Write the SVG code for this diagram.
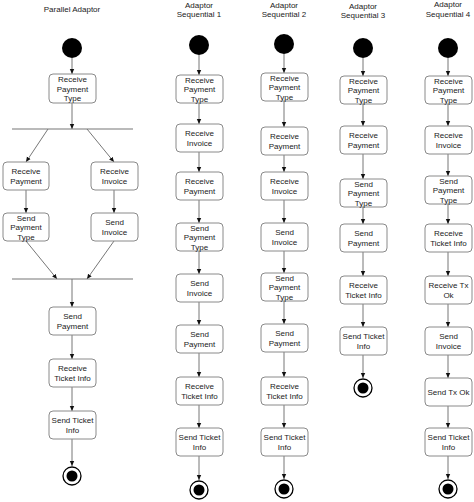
<svg xmlns="http://www.w3.org/2000/svg" width="474" height="502" viewBox="0 0 474 502">
<defs>
<marker id="ah" markerUnits="userSpaceOnUse" markerWidth="6" markerHeight="6" refX="5" refY="3" orient="auto"><path d="M0,0.8 L5,3 L0,5.2 Z" fill="#111"/></marker>
<style>
text{font-family:"Liberation Sans",Arial,sans-serif;font-size:8px;fill:#222;text-anchor:middle}
.box{fill:#fff;stroke:#8a8a8a;stroke-width:1}
.start{fill:#000}
.endo{fill:#fff;stroke:#000;stroke-width:1.3}
.endi{fill:#000}
.c{stroke:#777;stroke-width:1;fill:none;marker-end:url(#ah)}
.bar{stroke:#777;stroke-width:1.2}
</style>
</defs>
<rect width="474" height="502" fill="#fff"/>
<g id="titles">
<text x="72" y="12">Parallel Adaptor</text>
<text x="199" y="8">Adaptor</text><text x="199" y="17">Sequential 1</text>
<text x="284" y="8">Adaptor</text><text x="284" y="17">Sequential 2</text>
<text x="363" y="9">Adaptor</text><text x="363" y="18">Sequential 3</text>
<text x="448" y="7">Adaptor</text><text x="448" y="17">Sequential 4</text>
</g>
<g id="connectors">
<!-- parallel -->
<line class="c" x1="72" y1="58" x2="72" y2="74"/>
<line class="c" x1="72" y1="103" x2="72" y2="129"/>
<line class="bar" x1="12" y1="129" x2="133" y2="129"/>
<line class="c" x1="48" y1="129" x2="26" y2="162"/>
<line class="c" x1="87" y1="129" x2="114" y2="162"/>
<line class="c" x1="26" y1="190" x2="26" y2="213"/>
<line class="c" x1="114" y1="190" x2="114" y2="213"/>
<line class="c" x1="26" y1="241" x2="57" y2="279"/>
<line class="c" x1="114" y1="241" x2="87" y2="279"/>
<line class="bar" x1="12" y1="279" x2="133" y2="279"/>
<line class="c" x1="72" y1="279" x2="72" y2="307"/>
<line class="c" x1="72" y1="335" x2="72" y2="359"/>
<line class="c" x1="72" y1="387" x2="72" y2="411"/>
<line class="c" x1="72" y1="439" x2="72" y2="466"/>
<!-- seq1 -->
<line class="c" x1="199" y1="55" x2="199" y2="75"/>
<line class="c" x1="199" y1="103" x2="199" y2="124"/>
<line class="c" x1="199" y1="152" x2="199" y2="172"/>
<line class="c" x1="199" y1="200" x2="199" y2="223"/>
<line class="c" x1="199" y1="251" x2="199" y2="274"/>
<line class="c" x1="199" y1="302" x2="199" y2="325"/>
<line class="c" x1="199" y1="353" x2="199" y2="377"/>
<line class="c" x1="199" y1="405" x2="199" y2="428"/>
<line class="c" x1="199" y1="456" x2="199" y2="480"/>
<!-- seq2 -->
<line class="c" x1="284" y1="54" x2="284" y2="73"/>
<line class="c" x1="284" y1="101" x2="284" y2="127"/>
<line class="c" x1="284" y1="155" x2="284" y2="172"/>
<line class="c" x1="284" y1="200" x2="284" y2="223"/>
<line class="c" x1="284" y1="251" x2="284" y2="273"/>
<line class="c" x1="284" y1="301" x2="284" y2="324"/>
<line class="c" x1="284" y1="352" x2="284" y2="377"/>
<line class="c" x1="284" y1="405" x2="284" y2="428"/>
<line class="c" x1="284" y1="456" x2="284" y2="479"/>
<!-- seq3 -->
<line class="c" x1="363" y1="58" x2="363" y2="76"/>
<line class="c" x1="363" y1="104" x2="363" y2="126"/>
<line class="c" x1="363" y1="154" x2="363" y2="179"/>
<line class="c" x1="363" y1="207" x2="363" y2="224"/>
<line class="c" x1="363" y1="252" x2="363" y2="276"/>
<line class="c" x1="363" y1="304" x2="363" y2="327"/>
<line class="c" x1="363" y1="355" x2="363" y2="378"/>
<!-- seq4 -->
<line class="c" x1="448" y1="58" x2="448" y2="76"/>
<line class="c" x1="448" y1="104" x2="448" y2="126"/>
<line class="c" x1="448" y1="154" x2="448" y2="176"/>
<line class="c" x1="448" y1="204" x2="448" y2="224"/>
<line class="c" x1="448" y1="252" x2="448" y2="276"/>
<line class="c" x1="448" y1="304" x2="448" y2="327"/>
<line class="c" x1="448" y1="355" x2="448" y2="378"/>
<line class="c" x1="448" y1="406" x2="448" y2="428"/>
<line class="c" x1="448" y1="456" x2="448" y2="479"/>
</g>
<!-- Parallel -->
<g id="p_start"><circle class="start" cx="72" cy="48" r="10"/></g>
<g id="p_rpt"><rect class="box" x="49" y="74" width="47" height="29" rx="4"/><text x="72.5" y="82">Receive</text><text x="72.5" y="91.5">Payment</text><text x="72.5" y="101">Type</text></g>
<g id="p_rp"><rect class="box" x="3" y="162" width="46" height="28" rx="4"/><text x="26" y="174">Receive</text><text x="26" y="183.5">Payment</text></g>
<g id="p_ri"><rect class="box" x="91" y="162" width="47" height="28" rx="4"/><text x="114.5" y="174">Receive</text><text x="114.5" y="183.5">Invoice</text></g>
<g id="p_spt"><rect class="box" x="3" y="213" width="46" height="28" rx="4"/><text x="26" y="220.5">Send</text><text x="26" y="230">Payment</text><text x="26" y="239.5">Type</text></g>
<g id="p_si"><rect class="box" x="91" y="213" width="47" height="28" rx="4"/><text x="114.5" y="225">Send</text><text x="114.5" y="234.5">Invoice</text></g>
<g id="p_sp"><rect class="box" x="49" y="307" width="47" height="28" rx="4"/><text x="72.5" y="319">Send</text><text x="72.5" y="328.5">Payment</text></g>
<g id="p_rti"><rect class="box" x="49" y="359" width="47" height="28" rx="4"/><text x="72.5" y="371">Receive</text><text x="72.5" y="380.5">Ticket Info</text></g>
<g id="p_sti"><rect class="box" x="49" y="411" width="47" height="28" rx="4"/><text x="72.5" y="423">Send Ticket</text><text x="72.5" y="432.5">Info</text></g>
<g id="p_end"><circle class="endo" cx="72" cy="476" r="9"/><circle class="endi" cx="72" cy="476" r="5.5"/></g>
<!-- Seq 1 -->
<g id="s1_start"><circle class="start" cx="199" cy="45" r="10"/></g>
<g id="s1_1"><rect class="box" x="176" y="75" width="47" height="28" rx="4"/><text x="199.5" y="82.5">Receive</text><text x="199.5" y="92">Payment</text><text x="199.5" y="101.5">Type</text></g>
<g id="s1_2"><rect class="box" x="176" y="124" width="47" height="28" rx="4"/><text x="199.5" y="136">Receive</text><text x="199.5" y="145.5">Invoice</text></g>
<g id="s1_3"><rect class="box" x="176" y="172" width="47" height="28" rx="4"/><text x="199.5" y="184">Receive</text><text x="199.5" y="193.5">Payment</text></g>
<g id="s1_4"><rect class="box" x="176" y="223" width="47" height="28" rx="4"/><text x="199.5" y="230.5">Send</text><text x="199.5" y="240">Payment</text><text x="199.5" y="249.5">Type</text></g>
<g id="s1_5"><rect class="box" x="176" y="274" width="47" height="28" rx="4"/><text x="199.5" y="286">Send</text><text x="199.5" y="295.5">Invoice</text></g>
<g id="s1_6"><rect class="box" x="176" y="325" width="47" height="28" rx="4"/><text x="199.5" y="337">Send</text><text x="199.5" y="346.5">Payment</text></g>
<g id="s1_7"><rect class="box" x="176" y="377" width="47" height="28" rx="4"/><text x="199.5" y="389">Receive</text><text x="199.5" y="398.5">Ticket Info</text></g>
<g id="s1_8"><rect class="box" x="176" y="428" width="47" height="28" rx="4"/><text x="199.5" y="440">Send Ticket</text><text x="199.5" y="449.5">Info</text></g>
<g id="s1_end"><circle class="endo" cx="199" cy="490" r="9"/><circle class="endi" cx="199" cy="490" r="5.5"/></g>
<!-- Seq 2 -->
<g id="s2_start"><circle class="start" cx="284" cy="44" r="10"/></g>
<g id="s2_1"><rect class="box" x="261" y="73" width="47" height="28" rx="4"/><text x="284.5" y="80.5">Receive</text><text x="284.5" y="90">Payment</text><text x="284.5" y="99.5">Type</text></g>
<g id="s2_2"><rect class="box" x="261" y="127" width="47" height="28" rx="4"/><text x="284.5" y="139">Receive</text><text x="284.5" y="148.5">Payment</text></g>
<g id="s2_3"><rect class="box" x="261" y="172" width="47" height="28" rx="4"/><text x="284.5" y="184">Receive</text><text x="284.5" y="193.5">Invoice</text></g>
<g id="s2_4"><rect class="box" x="261" y="223" width="47" height="28" rx="4"/><text x="284.5" y="235">Send</text><text x="284.5" y="244.5">Invoice</text></g>
<g id="s2_5"><rect class="box" x="261" y="273" width="47" height="28" rx="4"/><text x="284.5" y="280.5">Send</text><text x="284.5" y="290">Payment</text><text x="284.5" y="299.5">Type</text></g>
<g id="s2_6"><rect class="box" x="261" y="324" width="47" height="28" rx="4"/><text x="284.5" y="336">Send</text><text x="284.5" y="345.5">Payment</text></g>
<g id="s2_7"><rect class="box" x="261" y="377" width="47" height="28" rx="4"/><text x="284.5" y="389">Receive</text><text x="284.5" y="398.5">Ticket Info</text></g>
<g id="s2_8"><rect class="box" x="261" y="428" width="47" height="28" rx="4"/><text x="284.5" y="440">Send Ticket</text><text x="284.5" y="449.5">Info</text></g>
<g id="s2_end"><circle class="endo" cx="284" cy="489" r="9"/><circle class="endi" cx="284" cy="489" r="5.5"/></g>
<!-- Seq 3 -->
<g id="s3_start"><circle class="start" cx="363" cy="48" r="10"/></g>
<g id="s3_1"><rect class="box" x="340" y="76" width="47" height="28" rx="4"/><text x="363.5" y="83.5">Receive</text><text x="363.5" y="93">Payment</text><text x="363.5" y="102.5">Type</text></g>
<g id="s3_2"><rect class="box" x="340" y="126" width="47" height="28" rx="4"/><text x="363.5" y="138">Receive</text><text x="363.5" y="147.5">Payment</text></g>
<g id="s3_3"><rect class="box" x="340" y="179" width="47" height="28" rx="4"/><text x="363.5" y="186.5">Send</text><text x="363.5" y="196">Payment</text><text x="363.5" y="205.5">Type</text></g>
<g id="s3_4"><rect class="box" x="340" y="224" width="47" height="28" rx="4"/><text x="363.5" y="236">Send</text><text x="363.5" y="245.5">Payment</text></g>
<g id="s3_5"><rect class="box" x="340" y="276" width="47" height="28" rx="4"/><text x="363.5" y="288">Receive</text><text x="363.5" y="297.5">Ticket Info</text></g>
<g id="s3_6"><rect class="box" x="340" y="327" width="47" height="28" rx="4"/><text x="363.5" y="339">Send Ticket</text><text x="363.5" y="348.5">Info</text></g>
<g id="s3_end"><circle class="endo" cx="363" cy="388" r="9"/><circle class="endi" cx="363" cy="388" r="5.5"/></g>
<!-- Seq 4 -->
<g id="s4_start"><circle class="start" cx="448" cy="48" r="10"/></g>
<g id="s4_1"><rect class="box" x="425" y="76" width="47" height="28" rx="4"/><text x="448.5" y="83.5">Receive</text><text x="448.5" y="93">Payment</text><text x="448.5" y="102.5">Type</text></g>
<g id="s4_2"><rect class="box" x="425" y="126" width="47" height="28" rx="4"/><text x="448.5" y="138">Receive</text><text x="448.5" y="147.5">Invoice</text></g>
<g id="s4_3"><rect class="box" x="425" y="176" width="47" height="28" rx="4"/><text x="448.5" y="183.5">Send</text><text x="448.5" y="193">Payment</text><text x="448.5" y="202.5">Type</text></g>
<g id="s4_4"><rect class="box" x="425" y="224" width="47" height="28" rx="4"/><text x="448.5" y="236">Receive</text><text x="448.5" y="245.5">Ticket Info</text></g>
<g id="s4_5"><rect class="box" x="425" y="276" width="47" height="28" rx="4"/><text x="448.5" y="288">Receive Tx</text><text x="448.5" y="297.5">Ok</text></g>
<g id="s4_6"><rect class="box" x="425" y="327" width="47" height="28" rx="4"/><text x="448.5" y="339">Send</text><text x="448.5" y="348.5">Invoice</text></g>
<g id="s4_7"><rect class="box" x="425" y="378" width="47" height="28" rx="4"/><text x="448.5" y="395">Send Tx Ok</text></g>
<g id="s4_8"><rect class="box" x="425" y="428" width="47" height="28" rx="4"/><text x="448.5" y="440">Send Ticket</text><text x="448.5" y="449.5">Info</text></g>
<g id="s4_end"><circle class="endo" cx="448" cy="489" r="9"/><circle class="endi" cx="448" cy="489" r="5.5"/></g>
</svg>
